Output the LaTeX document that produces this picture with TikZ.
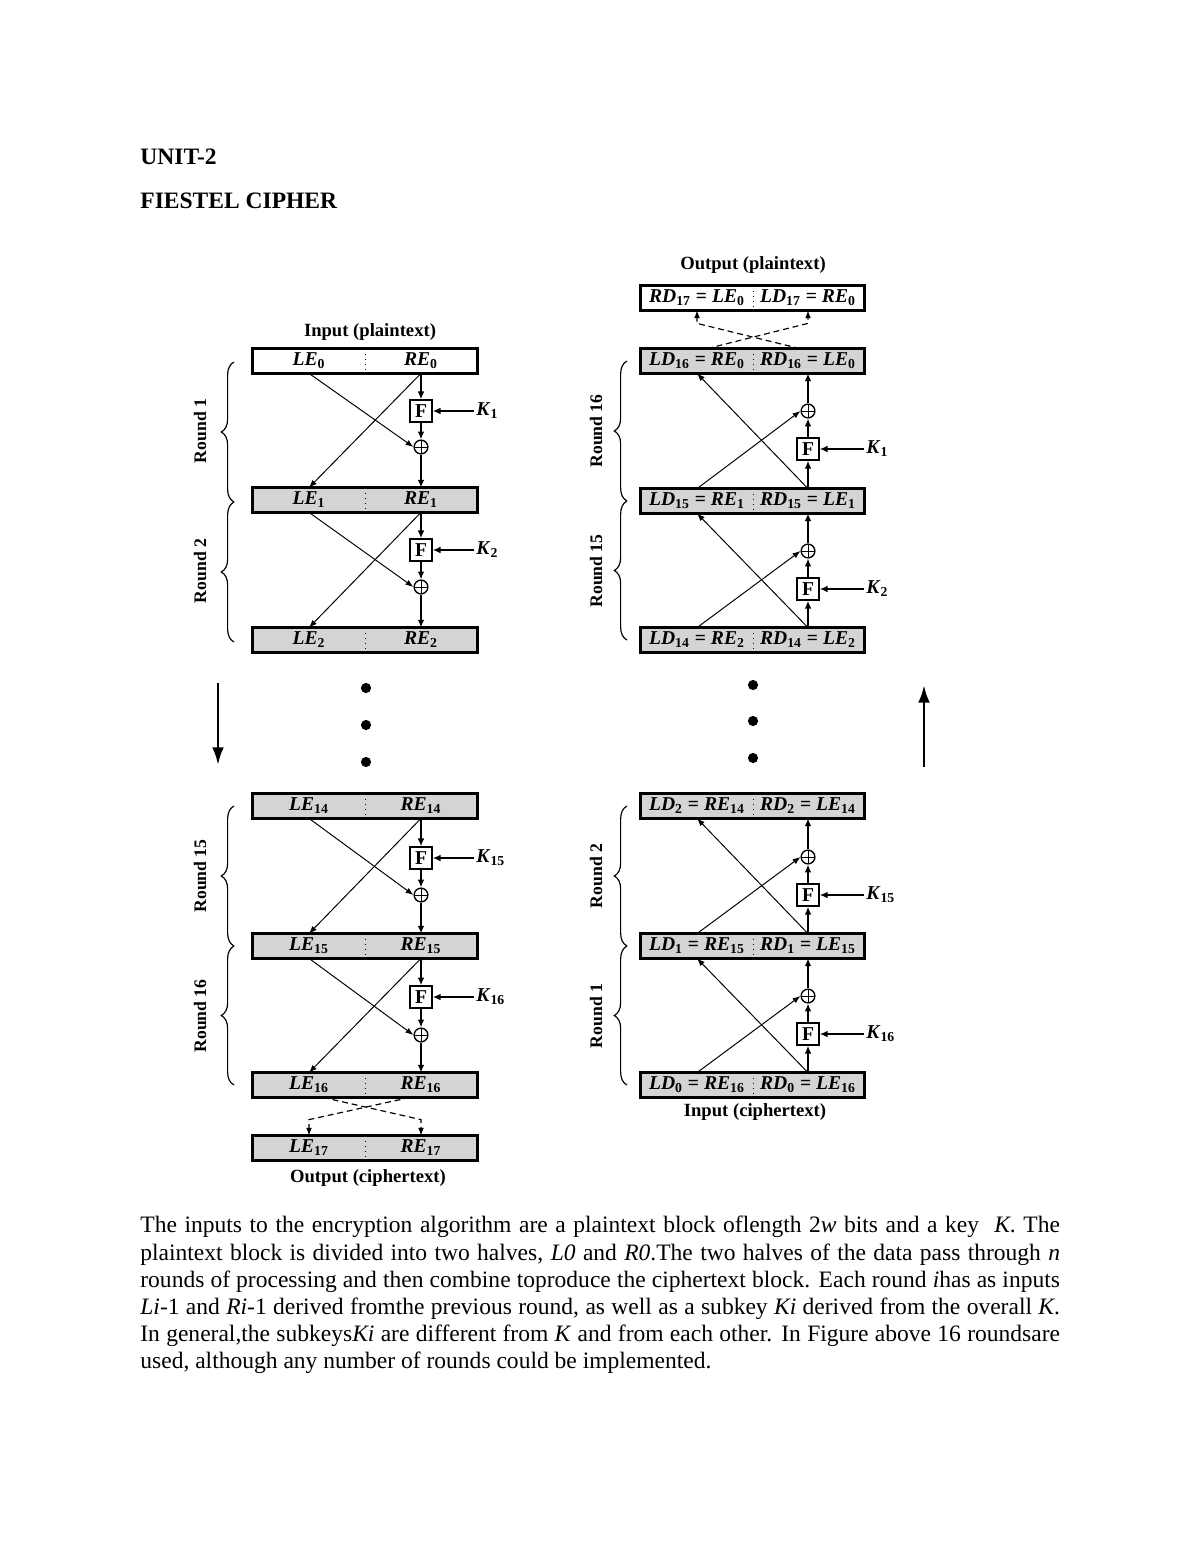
\documentclass[tikz,border=0pt]{standalone}
\usepackage{fontspec}
\setmainfont{Liberation Serif}
\usetikzlibrary{arrows.meta, decorations.pathreplacing}
\definecolor{boxgray}{gray}{0.83}

\newcommand{\half}[2]{\textbf{\textit{#1}}\textsubscript{\textbf{#2}}}

\begin{document}
\begin{tikzpicture}[x=0.51pt, y=-0.51pt]
    \useasboundingbox (0,0) rectangle (1200,1553);

            % Styles for the halves, the frames and the round parts
            \tikzstyle{half} = [rectangle, minimum width=57.12pt, minimum height=12.24pt,
                                inner sep=0pt, font=\fontsize{10}{12}\selectfont]
            \tikzstyle{halfgray} = [half, fill=boxgray]
            \tikzstyle{frame} = [line width=1.5pt]
            \tikzstyle{divider} = [dotted, line width=0.6pt]
            \tikzstyle{fbox} = [rectangle, draw=black, line width=0.9pt, fill=white,
                                minimum size=11pt, inner sep=0pt, font=\fontsize{10}{12}\selectfont\bfseries]
            \tikzstyle{xor} = [circle, draw=black, line width=0.7pt, fill=white, minimum size=7pt, inner sep=0pt,
                               path picture={\draw[line width=0.5pt] (path picture bounding box.north) -- (path picture bounding box.south)
                                             (path picture bounding box.west) -- (path picture bounding box.east);}]
            \tikzstyle{key} = [anchor=west, inner sep=1pt, font=\fontsize{10}{12}\selectfont]
            \tikzstyle{data} = [line width=1.2pt, -{Latex[length=4pt, width=3.4pt]}]
            \tikzstyle{keyline} = [line width=1pt, -{Latex[length=4pt, width=3.4pt]}]
            \tikzstyle{cross} = [line width=0.5pt, -{Latex[length=4pt, width=3pt]}]
            \tikzstyle{swap} = [line width=0.6pt, densely dashed, -{Latex[length=4pt, width=3pt]}]
            \tikzstyle{caption} = [font=\fontsize{9.5}{11}\selectfont\bfseries]
            \tikzstyle{roundlabel} = [rotate=90, font=\fontsize{9}{11}\selectfont\bfseries]
            \tikzstyle{roundbrace} = [decorate, decoration={brace, amplitude=6.5pt}, line width=0.6pt]
            \tikzstyle{flow} = [line width=1.4pt, -{Latex[length=9pt, width=6pt]}]

            % Title
            \node[anchor=base west, inner sep=0pt, font=\fontsize{12}{14}\selectfont\bfseries] (unit) at (140, 165) {UNIT-2};
            \node[anchor=base west, inner sep=0pt, font=\fontsize{12}{14}\selectfont\bfseries] (title) at (140, 209) {FIESTEL CIPHER};

            % Encryption: blocks
            \node[half] (le0) at (309, 361) {\half{LE}{0}};
            \node[half] (re0) at (421, 361) {\half{RE}{0}};
            \node[halfgray] (le1) at (309, 500) {\half{LE}{1}};
            \node[halfgray] (re1) at (421, 500) {\half{RE}{1}};
            \node[halfgray] (le2) at (309, 640) {\half{LE}{2}};
            \node[halfgray] (re2) at (421, 640) {\half{RE}{2}};
            \node[halfgray] (le14) at (309, 806) {\half{LE}{14}};
            \node[halfgray] (re14) at (421, 806) {\half{RE}{14}};
            \node[halfgray] (le15) at (309, 946) {\half{LE}{15}};
            \node[halfgray] (re15) at (421, 946) {\half{RE}{15}};
            \node[halfgray] (le16) at (309, 1085) {\half{LE}{16}};
            \node[halfgray] (re16) at (421, 1085) {\half{RE}{16}};
            \node[halfgray] (le17) at (309, 1148) {\half{LE}{17}};
            \node[halfgray] (re17) at (421, 1148) {\half{RE}{17}};

            % Decryption: blocks
            \node[half] (rd17) at (697, 298) {\half{RD}{17} \textbf{=} \half{LE}{0}};
            \node[half] (ld17) at (808, 298) {\half{LD}{17} \textbf{=} \half{RE}{0}};
            \node[halfgray] (ld16) at (697, 361) {\half{LD}{16} \textbf{=} \half{RE}{0}};
            \node[halfgray] (rd16) at (808, 361) {\half{RD}{16} \textbf{=} \half{LE}{0}};
            \node[halfgray] (ld15) at (697, 501) {\half{LD}{15} \textbf{=} \half{RE}{1}};
            \node[halfgray] (rd15) at (808, 501) {\half{RD}{15} \textbf{=} \half{LE}{1}};
            \node[halfgray] (ld14) at (697, 640) {\half{LD}{14} \textbf{=} \half{RE}{2}};
            \node[halfgray] (rd14) at (808, 640) {\half{RD}{14} \textbf{=} \half{LE}{2}};
            \node[halfgray] (ld2) at (697, 806) {\half{LD}{2} \textbf{=} \half{RE}{14}};
            \node[halfgray] (rd2) at (808, 806) {\half{RD}{2} \textbf{=} \half{LE}{14}};
            \node[halfgray] (ld1) at (697, 946) {\half{LD}{1} \textbf{=} \half{RE}{15}};
            \node[halfgray] (rd1) at (808, 946) {\half{RD}{1} \textbf{=} \half{LE}{15}};
            \node[halfgray] (ld0) at (697, 1085) {\half{LD}{0} \textbf{=} \half{RE}{16}};
            \node[halfgray] (rd0) at (808, 1085) {\half{RD}{0} \textbf{=} \half{LE}{16}};

            % Frames round the pairs of halves
            \draw[frame] (le0.north west) rectangle (re0.south east);
            \draw[frame] (le1.north west) rectangle (re1.south east);
            \draw[frame] (le2.north west) rectangle (re2.south east);
            \draw[frame] (le14.north west) rectangle (re14.south east);
            \draw[frame] (le15.north west) rectangle (re15.south east);
            \draw[frame] (le16.north west) rectangle (re16.south east);
            \draw[frame] (le17.north west) rectangle (re17.south east);
            \draw[frame] (rd17.north west) rectangle (ld17.south east);
            \draw[frame] (ld16.north west) rectangle (rd16.south east);
            \draw[frame] (ld15.north west) rectangle (rd15.south east);
            \draw[frame] (ld14.north west) rectangle (rd14.south east);
            \draw[frame] (ld2.north west) rectangle (rd2.south east);
            \draw[frame] (ld1.north west) rectangle (rd1.south east);
            \draw[frame] (ld0.north west) rectangle (rd0.south east);
            \foreach \b in {le0, le1, le2, le14, le15, le16, le17, rd17, ld16, ld15, ld14, ld2, ld1, ld0}
                \draw[divider] (\b.north east) -- (\b.south east);

            % Captions
            \node[caption] (inplain) at (370, 332) {Input (plaintext)};
            \node[caption] (outcipher) at (368, 1178) {Output (ciphertext)};
            \node[caption] (outplain) at (753, 265) {Output (plaintext)};
            \node[caption] (incipher) at (755, 1112) {Input (ciphertext)};

            % Encryption: F boxes, XORs and subkeys
            \node[fbox] (f1) at (421, 411) {F};
            \node[xor] (x1) at (421, 447) {};
            \node[key] (k1) at (474, 411) {\half{K}{1}};
            \node[fbox] (f2) at (421, 550) {F};
            \node[xor] (x2) at (421, 587) {};
            \node[key] (k2) at (474, 550) {\half{K}{2}};
            \node[fbox] (f15) at (421, 858) {F};
            \node[xor] (x15) at (421, 895) {};
            \node[key] (k15) at (474, 858) {\half{K}{15}};
            \node[fbox] (f16) at (421, 997) {F};
            \node[xor] (x16) at (421, 1035) {};
            \node[key] (k16) at (474, 997) {\half{K}{16}};

            % Decryption: F boxes, XORs and subkeys
            \node[xor] (dx16) at (808, 411) {};
            \node[fbox] (df16) at (808, 449) {F};
            \node[key] (dk1) at (864, 449) {\half{K}{1}};
            \node[xor] (dx15) at (808, 551) {};
            \node[fbox] (df15) at (808, 589) {F};
            \node[key] (dk2) at (864, 589) {\half{K}{2}};
            \node[xor] (dx2) at (808, 857) {};
            \node[fbox] (df2) at (808, 895) {F};
            \node[key] (dk15) at (864, 895) {\half{K}{15}};
            \node[xor] (dx1) at (808, 996) {};
            \node[fbox] (df1) at (808, 1034) {F};
            \node[key] (dk16) at (864, 1034) {\half{K}{16}};

            % Encryption rounds
            \draw[data] (re0.south) -- (f1.north);
            \draw[data] (f1.south) -- (x1.north);
            \draw[data] (x1.south) -- (re1.north);
            \draw[keyline] (k1.west) -- (f1.east);
            \draw[cross] (le0.south) -- (x1.west);
            \draw[cross] (re0.south) -- (le1.north);

            \draw[data] (re1.south) -- (f2.north);
            \draw[data] (f2.south) -- (x2.north);
            \draw[data] (x2.south) -- (re2.north);
            \draw[keyline] (k2.west) -- (f2.east);
            \draw[cross] (le1.south) -- (x2.west);
            \draw[cross] (re1.south) -- (le2.north);

            \draw[data] (re14.south) -- (f15.north);
            \draw[data] (f15.south) -- (x15.north);
            \draw[data] (x15.south) -- (re15.north);
            \draw[keyline] (k15.west) -- (f15.east);
            \draw[cross] (le14.south) -- (x15.west);
            \draw[cross] (re14.south) -- (le15.north);

            \draw[data] (re15.south) -- (f16.north);
            \draw[data] (f16.south) -- (x16.north);
            \draw[data] (x16.south) -- (re16.north);
            \draw[keyline] (k16.west) -- (f16.east);
            \draw[cross] (le15.south) -- (x16.west);
            \draw[cross] (re15.south) -- (le16.north);

            % Final swap
            \draw[swap] ([shift={(14,0)}]le16.south) -- ([shift={(0,-16)}]re17.north) -- (re17.north);
            \draw[swap] ([shift={(-11,0)}]re16.south) -- ([shift={(0,-16)}]le17.north) -- (le17.north);

            % Decryption rounds
            \draw[data] (rd15.north) -- (df16.south);
            \draw[data] (df16.north) -- (dx16.south);
            \draw[data] (dx16.north) -- (rd16.south);
            \draw[keyline] (dk1.west) -- (df16.east);
            \draw[cross] (ld15.north) -- (dx16.west);
            \draw[cross] (rd15.north) -- (ld16.south);

            \draw[data] (rd14.north) -- (df15.south);
            \draw[data] (df15.north) -- (dx15.south);
            \draw[data] (dx15.north) -- (rd15.south);
            \draw[keyline] (dk2.west) -- (df15.east);
            \draw[cross] (ld14.north) -- (dx15.west);
            \draw[cross] (rd14.north) -- (ld15.south);

            \draw[data] (rd1.north) -- (df2.south);
            \draw[data] (df2.north) -- (dx2.south);
            \draw[data] (dx2.north) -- (rd2.south);
            \draw[keyline] (dk15.west) -- (df2.east);
            \draw[cross] (ld1.north) -- (dx2.west);
            \draw[cross] (rd1.north) -- (ld2.south);

            \draw[data] (rd0.north) -- (df1.south);
            \draw[data] (df1.north) -- (dx1.south);
            \draw[data] (dx1.north) -- (rd1.south);
            \draw[keyline] (dk16.west) -- (df1.east);
            \draw[cross] (ld0.north) -- (dx1.west);
            \draw[cross] (rd0.north) -- (ld1.south);

            % Swap into the plaintext output
            \draw[swap] ([shift={(10,0)}]ld16.north) -- ([shift={(0,13)}]ld17.south) -- (ld17.south);
            \draw[swap] ([shift={(-8,0)}]rd16.north) -- ([shift={(0,13)}]rd17.south) -- (rd17.south);

            % Round braces and labels
            \draw[roundbrace] (234, 502) -- (234, 362);
            \draw[roundbrace] (234, 642) -- (234, 502);
            \draw[roundbrace] (234, 946) -- (234, 806);
            \draw[roundbrace] (234, 1085) -- (234, 946);
            \node[roundlabel] (r1) at (200, 431) {Round 1};
            \node[roundlabel] (r2) at (200, 571) {Round 2};
            \node[roundlabel] (r15) at (200, 876) {Round 15};
            \node[roundlabel] (r16) at (200, 1016) {Round 16};

            \draw[roundbrace] (627, 501) -- (627, 361);
            \draw[roundbrace] (627, 640) -- (627, 501);
            \draw[roundbrace] (627, 946) -- (627, 806);
            \draw[roundbrace] (627, 1085) -- (627, 946);
            \node[roundlabel] (dr16) at (596, 431) {Round 16};
            \node[roundlabel] (dr15) at (596, 571) {Round 15};
            \node[roundlabel] (dr2) at (596, 876) {Round 2};
            \node[roundlabel] (dr1) at (596, 1016) {Round 1};

            % Elided rounds and direction arrows
            \fill (366, 688) circle (2.6pt) (366, 725) circle (2.6pt) (366, 762) circle (2.6pt);
            \fill (753, 685) circle (2.6pt) (753, 721) circle (2.6pt) (753, 758) circle (2.6pt);
            \coordinate (downtop) at (218, 683);
            \coordinate (downend) at (218, 765);
            \coordinate (uptop) at (924, 685);
            \coordinate (upend) at (924, 767);
            \draw[flow] (downtop) -- (downend);
            \draw[flow] (upend) -- (uptop);

            % Explanation
            \node[anchor=north west, inner sep=0pt, align=left, font=\fontsize{12}{13.8}\selectfont] (para) at (140, 1216) {%
                \makebox[469pt][s]{The inputs to the encryption algorithm are a plaintext block oflength 2\textit{w} bits and a key \ \textit{K}. The}\\
                \makebox[469pt][s]{plaintext block is divided into two halves, \textit{L0} and \textit{R0}.The two halves of the data pass through \textit{n}}\\
                \makebox[469pt][s]{rounds of processing and then combine toproduce the ciphertext block. Each round \textit{i}has as inputs}\\
                \makebox[469pt][s]{\textit{Li}-1 and \textit{Ri}-1 derived fromthe previous round, as well as a subkey \textit{Ki} derived from the overall \textit{K}.}\\
                \makebox[469pt][s]{In general,the subkeys\textit{Ki} are different from \textit{K} and from each other. In Figure above 16 roundsare}\\
                used, although any number of rounds could be implemented.};

        \end{tikzpicture}
\end{document}
